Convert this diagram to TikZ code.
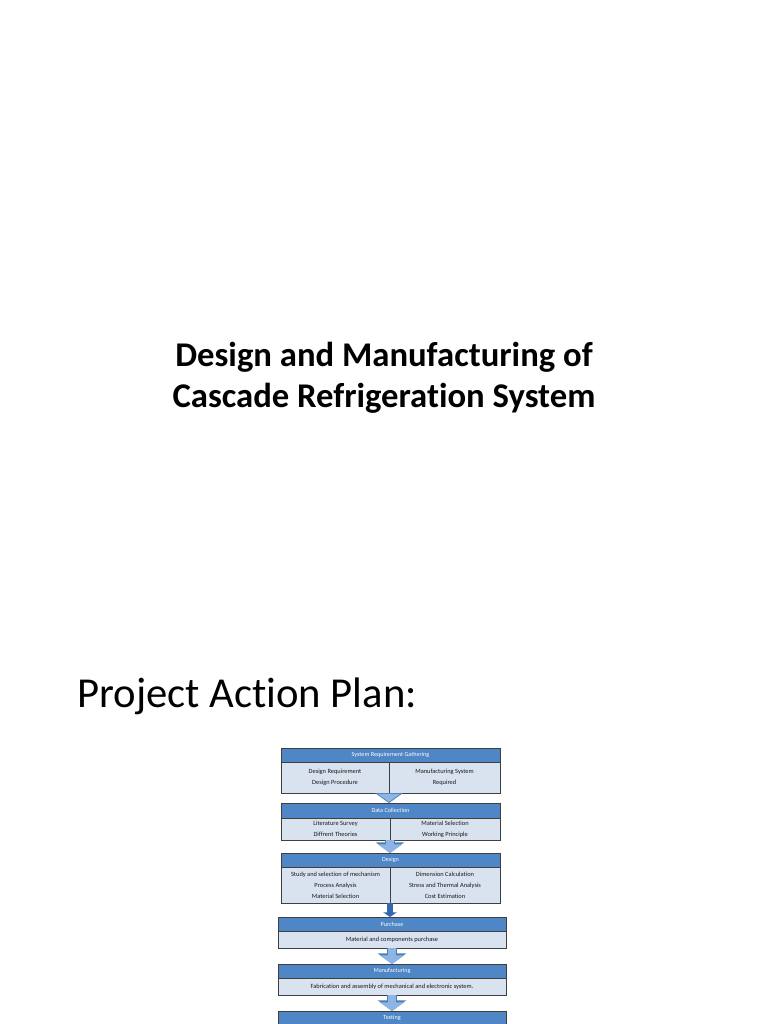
\documentclass[tikz,border=0pt]{standalone}
\usepackage{fontspec}
\setmainfont{Carlito}[Ligatures={NoCommon}]
\usepackage{xcolor}
\usetikzlibrary{arrows.meta}

\definecolor{hdrblue}{HTML}{4F86C6}
\definecolor{cellblue}{HTML}{D9E3F0}
\definecolor{arrowlight}{HTML}{8DB4E2}
\definecolor{arrowdark}{HTML}{4A7EBB}
\definecolor{arrowdeep}{HTML}{3567B0}
\definecolor{edgegrey}{HTML}{3F3F3F}

\begin{document}
\begin{tikzpicture}[x=0.75pt,y=0.75pt,yscale=-1,xscale=1,
  hdr/.style={draw=edgegrey, fill=hdrblue, text=white, inner sep=0pt, outer sep=0pt, line width=0.4pt, font=\fontsize{4.6}{6}\selectfont},
  cell/.style={draw=edgegrey, fill=cellblue, text=black!90, inner sep=0pt, outer sep=0pt, line width=0.4pt, align=center, font=\fontsize{4.8}{8.25}\selectfont},
  chevarr/.style={draw=arrowdark, line width=0.5pt, -{Triangle[width=21pt,length=7.5pt,fill=arrowlight]}},
  blockarr/.style={draw=arrowlight, line width=6pt, -{Triangle[width=18pt,length=6.5pt]},
    preaction={draw=arrowdark, line width=7.5pt, -{Triangle[width=21pt,length=8pt]}}},
  deeparr/.style={draw=arrowdeep, line width=4.5pt, -{Triangle[width=10pt,length=3.5pt]}}]

\useasboundingbox (0,0) rectangle (768,1024);
\fill[white] (0,0) rectangle (768,1024);
\clip (0,0) rectangle (768,1024);

% titles
\node (title) at (384,378) [inner sep=0pt, align=center, font=\fontsize{26}{30.75}\selectfont\bfseries] {Design and Manufacturing of\\Cascade Refrigeration System};
\node (plan) at (77,707) [anchor=base west, inner sep=0pt, font=\fontsize{32}{38}\selectfont] {Project Action Plan:};

% stage 1
\node (hdr1) at (390.5,755) [hdr, minimum width=164.25pt, minimum height=10.5pt] {System Requirement Gathering};
\node (s1l) at (335,777.5) [cell, minimum width=81pt, minimum height=23.25pt] {Design Requirement\\Design Procedure};
\node (s1r) at (444.5,777.5) [cell, minimum width=83.25pt, minimum height=23.25pt] {Manufacturing System\\Required};

% stage 2
\node (hdr2) at (390.5,810.5) [hdr, minimum width=164.25pt, minimum height=11.25pt] {Data Collection};
\node (s2l) at (335.5,829) [cell, minimum width=81.75pt, minimum height=16.5pt] {Literature Survey\\Diffrent Theories};
\node (s2r) at (445,829) [cell, minimum width=82.5pt, minimum height=16.5pt] {Material Selection\\Working Principle};

% stage 3
\node (hdr3) at (390.5,860) [hdr, minimum width=164.25pt, minimum height=10.5pt] {Design};
\node (s3l) at (335.5,885) [cell, minimum width=81.75pt, minimum height=27pt] {Study and selection of mechanism\\Process Analysis\\Material Selection};
\node (s3r) at (445,885) [cell, minimum width=82.5pt, minimum height=27pt] {Dimension Calculation\\Stress and Thermal Analysis\\Cost Estimation};

% stage 4
\node (hdr4) at (392,924) [hdr, minimum width=171pt, minimum height=10.5pt] {Purchase};
\node (s4) at (392,939.5) [cell, minimum width=171pt, minimum height=12.75pt] {Material and components purchase};

% stage 5
\node (hdr5) at (392,971) [hdr, minimum width=171pt, minimum height=10.5pt] {Manufacturing};
\node (s5) at (392,986.5) [cell, minimum width=171pt, minimum height=12.75pt] {Fabrication and assembly of mechanical and electronic system.};

% stage 6
\node (hdr6) at (392,1018) [hdr, minimum width=171pt, minimum height=10.5pt] {Testing};

% arrows between stages
\draw[chevarr] (s1l.south east) -- (s1l.south east |- hdr2.north);
\draw[blockarr] (s2l.south east) -- (s2l.south east |- hdr3.north);
\draw[deeparr] (s3l.south east) -- (s3l.south east |- hdr4.north);
\draw[blockarr] (s4.south) -- (hdr5.north);
\draw[blockarr] (s5.south) -- (hdr6.north);

\end{tikzpicture}
\end{document}
